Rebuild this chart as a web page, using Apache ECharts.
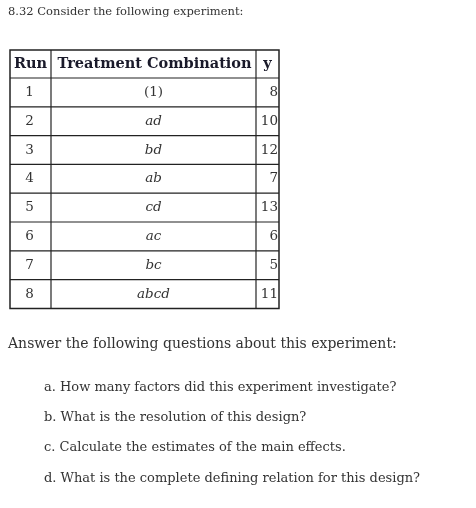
<!DOCTYPE html>
<html>
<head>
<meta charset="utf-8">
<script src="https://cdn.jsdelivr.net/npm/echarts@6/dist/echarts.min.js"></script>
<style>
  html,body{margin:0;padding:0;background:#fff;}
  #chart{width:476px;height:508px;}
</style>
</head>
<body>
<div id="chart"></div>
<script>
var title = '8.32 Consider the following experiment:';
var headers = ['Run', 'Treatment Combination', 'y'];
var runs = ['1', '2', '3', '4', '5', '6', '7', '8'];
var combos = ['(1)', 'ad', 'bd', 'ab', 'cd', 'ac', 'bc', 'abcd'];
var yValues = [8, 10, 12, 7, 13, 6, 5, 11];
var prompt = 'Answer the following questions about this experiment:';
var questions = [
  'a. How many factors did this experiment investigate?',
  'b. What is the resolution of this design?',
  'c. Calculate the estimates of the main effects.',
  'd. What is the complete defining relation for this design?'
];

var chart = echarts.init(document.getElementById('chart'));
var font = '"DejaVu Serif", "Liberation Serif", serif';
var txt = '#333';
var cols = [10, 51, 256, 279];   // column borders
var top0 = 50, headH = 28, rowH = 28.8;
var g = [];

g.push({type:'text', left:8, top:6, style:{text:title, font:'11.5px ' + font, fill:txt}});

var bottom = top0 + headH + rowH * runs.length;
// borders
g.push({type:'rect', shape:{x:cols[0], y:top0, width:cols[3]-cols[0], height:bottom-top0},
  style:{fill:'none', stroke:'#222', lineWidth:1.5}});
for (var c = 1; c < 3; c++) {
  g.push({type:'line', shape:{x1:cols[c], y1:top0, x2:cols[c], y2:bottom}, style:{stroke:'#222', lineWidth:1.2}});
}
for (var r = 0; r < runs.length; r++) {
  var yy = top0 + headH + rowH * r;
  g.push({type:'line', shape:{x1:cols[0], y1:yy, x2:cols[3], y2:yy}, style:{stroke:'#222', lineWidth:1.2}});
}
// header
var hx = [(cols[0]+cols[1])/2, (cols[1]+cols[2])/2 + 1, (cols[2]+cols[3])/2];
for (var h = 0; h < headers.length; h++) {
  g.push({type:'text', x:hx[h], y:top0 + headH/2,
    style:{text:headers[h], font:'bold 14.5px ' + font, fill:'#1a1a2a', align:'center', verticalAlign:'middle'}});
}
// rows
for (var i = 0; i < runs.length; i++) {
  var cy = top0 + headH + rowH * i + rowH/2;
  g.push({type:'text', x:(cols[0]+cols[1])/2 - 1, y:cy,
    style:{text:runs[i], font:'13.5px ' + font, fill:txt, align:'center', verticalAlign:'middle'}});
  g.push({type:'text', x:(cols[1]+cols[2])/2, y:cy,
    style:{text:combos[i], font:(i === 0 ? '' : 'italic ') + '13.5px ' + font, fill:txt, align:'center', verticalAlign:'middle'}});
  g.push({type:'text', x:cols[3]-1, y:cy,
    style:{text:String(yValues[i]), font:'13.5px ' + font, fill:txt, align:'right', verticalAlign:'middle'}});
}

g.push({type:'text', left:8, top:337, style:{text:prompt, font:'14px ' + font, fill:txt}});
for (var q = 0; q < questions.length; q++) {
  g.push({type:'text', left:44, top:381 + q * 30.3, style:{text:questions[q], font:'13px ' + font, fill:txt}});
}

chart.setOption({animation:false, graphic:g});
</script>
</body>
</html>
